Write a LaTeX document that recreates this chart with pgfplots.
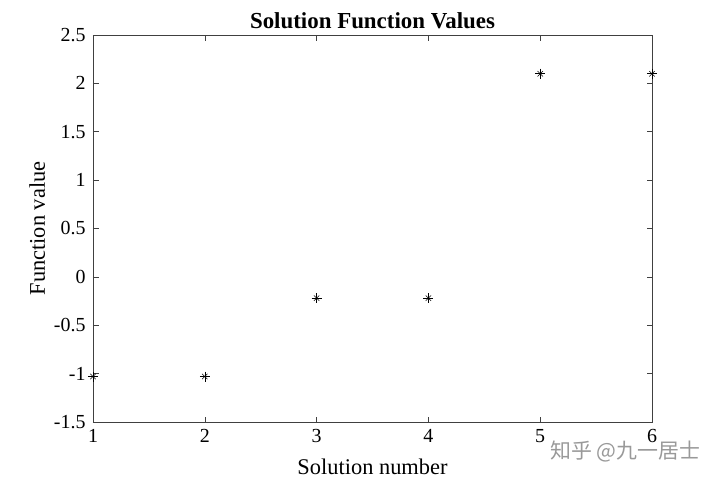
\documentclass[border=0pt]{standalone}
\usepackage{pgfplots}
\pgfplotsset{compat=1.18}
\usepackage{fontspec}
\setmainfont{Liberation Serif}
\newfontfamily\cjk{Noto Sans CJK SC}

\definecolor{axgray}{gray}{0.25}

\pgfplotstableread{
x y
1 -1.03
2 -1.03
3 -0.22
4 -0.22
5 2.10
6 2.10
}\solutions

\begin{document}
\begin{tikzpicture}
\begin{axis}[
    at={(0,0)}, anchor=south west,
    scale only axis,
    width=559bp, height=387bp,
    xmin=1, xmax=6, ymin=-1.5, ymax=2.5,
    xtick={1,2,3,4,5,6},
    ytick={-1.5,-1,-0.5,0,0.5,1,1.5,2,2.5},
    yticklabels={-1.5,-1,-0.5,0,0.5,1,1.5,2,2.5},
    xticklabels={1,2,3,4,5,6},
    tick align=inside,
    major tick length=5.5bp,
    axis line style={axgray, line width=0.6bp},
    every tick/.style={axgray, line width=0.6bp},
    tick label style={font=\fontsize{20}{24}\selectfont, black},
    xticklabel style={yshift=-4bp},
    yticklabel style={xshift=-4bp},
    /pgf/number format/assume math mode=true,
    title={\bfseries Solution Function Values},
    title style={font=\fontsize{23}{27}\selectfont, at={(axis description cs:0.5,1)}, anchor=center, yshift=8bp},
    xlabel={Solution number},
    ylabel={Function value},
    label style={font=\fontsize{22.5}{27}\selectfont},
    xlabel style={at={(axis description cs:0.5,-0.116)}, anchor=center},
    ylabel style={at={(axis description cs:-0.1,0.5)}, anchor=center},
    clip=false,
]
\addplot[only marks, mark=+, mark size=5bp, black, mark options={line width=0.5bp}]
    table[x=x, y=y] {\solutions};
\addplot[only marks, mark=x, mark size=3.8bp, black, mark options={line width=0.5bp}]
    table[x=x, y=y] {\solutions};
\node[font=\cjk\fontsize{21}{24}\selectfont, text=black!40, anchor=center]
    at (axis cs:5.76,-1.5) [yshift=-30bp] {知乎 @九一居士};
\end{axis}
\useasboundingbox (-93bp,-58bp) rectangle (627bp,422bp);
\end{tikzpicture}
\end{document}
